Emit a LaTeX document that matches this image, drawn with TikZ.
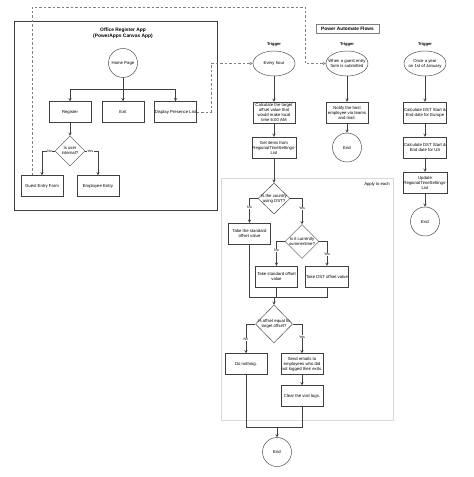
\documentclass[tikz,border=0pt]{standalone}
\usepackage{fontspec}
\setmainfont{Liberation Sans}
\usepackage{tikz}
\usetikzlibrary{shapes.geometric, arrows, positioning}
\tikzstyle{arrow} = [->,>=stealth]
\tikzstyle{link} = [->,>=stealth, draw=gray, dash pattern=on 2.5bp off 2bp]
\tikzstyle{proc} = [rectangle, draw, minimum width=42bp, minimum height=21bp, inner sep=0.5bp, align=center]
\tikzstyle{startstop} = [ellipse, draw, minimum width=42bp, minimum height=25bp, inner sep=0pt, align=center]
\tikzstyle{decision} = [diamond, draw, inner sep=0pt, minimum width=32bp, minimum height=32bp]
\tikzstyle{endnode} = [circle, draw, minimum size=29bp, inner sep=0pt, align=center]
\tikzstyle{tag} = [fill=white, inner sep=0.3bp, font=\fontsize{3.6}{4}\selectfont]
\tikzstyle{heading} = [align=center, font=\fontsize{4.9}{6}\selectfont\bfseries]
\tikzstyle{trig} = [font=\fontsize{4.1}{5}\selectfont\bfseries]

\begin{document}
\begin{tikzpicture}[x=1bp, y=-1bp, node distance=35bp, line width=0.45bp, draw=black!75,
    font=\fontsize{4.3}{5}\selectfont, every label/.style={align=center}]
        \useasboundingbox (0,0) rectangle (474,477);

        \node[draw, minimum width=203bp, minimum height=189bp] (App) at (115.5,115.5) {};
        \node[heading] (AppT) at (123,33.5) {Office Register App\\(PowerApps Canvas App)};
        \node[endnode] (Home) at (123,63) {Home Page};
        \node[proc, below of=Home, yshift=-14bp] (Exit) {Exit};
        \node[proc, left of=Exit, xshift=-18bp] (Reg) {Register};
        \node[proc, right of=Exit, xshift=17.5bp] (Disp) {Display Presence List};
        \node[decision, minimum width=30bp, minimum height=30bp, below of=Reg, yshift=-4bp,
            label={center:{Is user\\internal?}}] (Int) {};
        \node[proc, below of=Int, xshift=-28bp] (Guest) {Guest Entry Form};
        \node[proc, below of=Int, xshift=28bp] (Emp) {Employee Entry};
        \coordinate (B0) at (123,89);

        \node[draw=gray, line width=0.9bp, minimum width=63bp, minimum height=9bp, inner sep=1bp,
            font=\fontsize{4.8}{5}\selectfont\bfseries] (PA) at (347.5,29) {Power Automate Flows};

        \node[draw=gray!30, minimum width=172bp, minimum height=242bp] (Loop) at (307,299) {};
        \node[font=\fontsize{4.2}{5}\selectfont] (LoopT) at (377,184) {Apply to each};

        \node[startstop] (Hour) at (274,63.5) {Every hour};
        \node[trig, above of=Hour, node distance=19.5bp] (Trig1) {Trigger};
        \node[proc, below of=Hour, yshift=-14bp] (Target) {Calculate the target\\offset value that\\would make local\\time 6:00 AM};
        \node[proc, below of=Target] (Items) {Get items from\\RegionalTimeSettings-\\List};
        \node[decision, minimum height=31bp, below of=Items, yshift=-16bp,
            label={center:{Is the country\\using DST?}}] (DST) {};
        \node[proc, below of=DST, xshift=-24.5bp] (Std) {Take the standard\\offset value};
        \node[decision, minimum width=34bp, minimum height=34bp, below of=DST, xshift=28bp, yshift=-8bp,
            label={center:{Is it currently\\summertime?}}] (Summer) {};
        \node[proc, below of=Summer, xshift=-25.5bp] (Std2) {Take standard offset\\value};
        \node[proc, below of=Summer, xshift=25bp] (DSTv) {Take DST offset value};
        \coordinate (M1) at (274,297);
        \node[decision, minimum width=37bp, minimum height=38bp,
            label={center:{Is offset equal to\\target offset?}}] (Equal) at (274,324) {};
        \node[proc, below of=Equal, xshift=-28bp, yshift=-5bp] (None) {Do nothing.};
        \node[proc, below of=Equal, xshift=28bp, yshift=-5bp] (Mail) {Send emails to\\employees who did\\not logged their exits.};
        \node[proc, below of=Mail, yshift=3bp] (Clear) {Clear the visit logs.};
        \coordinate (M2) at (277,427);
        \node[endnode] (End1) at (277,452) {End};

        \node[startstop, label={center:{When a guest entry\\form is submitted}}] (Form) at (347,63.5) {};
        \node[trig, above of=Form, node distance=19.5bp] (Trig2) {Trigger};
        \node[proc, below of=Form, yshift=-14bp] (Notify) {Notify the host\\employee via teams\\and mail.};
        \node[endnode, below of=Notify] (End2) {End};

        \node[startstop, label={center:{Once a year\\on 1st of January}}] (Year) at (425,63.5) {};
        \node[trig, above of=Year, node distance=19.5bp] (Trig3) {Trigger};
        \node[proc, below of=Year, yshift=-14bp] (Europe) {Calculate DST Start \&\\End date for Europe};
        \node[proc, below of=Europe] (US) {Calculate DST Start \&\\End date for US};
        \node[proc, below of=US] (Update) {Update\\RegionalTimeSettings-\\List};
        \node[endnode, below of=Update, yshift=-4bp] (End3) {End};

        \draw[arrow] (Home) edge (Exit)
            (Reg) edge (Int)
            (Hour) edge (Target)
            (Target) edge (Items)
            (Items) edge (DST)
            (Mail) edge (Clear)
            (Form) edge (Notify)
            (Notify) edge (End2)
            (Year) edge (Europe)
            (Europe) edge (US)
            (US) edge (Update)
            (Update) edge (End3);
        \draw[arrow] (B0) -| (Reg);
        \draw[arrow] (B0) -| (Disp);
        \draw[arrow] (Int) -| node[tag, pos=0.2] {No} (Guest);
        \draw[arrow] (Int) -| node[tag, pos=0.2] {Yes} (Emp);
        \draw[arrow] (DST) -| node[tag, pos=0.68] {No} (Std);
        \draw[arrow] (DST) -| node[tag, pos=0.69] {Yes} (Summer);
        \draw[arrow] (Summer) -| node[tag, pos=0.69] {No} (Std2);
        \draw[arrow] (Summer) -| node[tag, pos=0.76] {Yes} (DSTv);
        \draw (Std) |- (M1);
        \draw (DSTv) |- (M1);
        \draw (Std2) -- (Std2 |- M1);
        \draw[arrow] (M1) -- (Equal);
        \draw[arrow] (Equal) -| node[tag, pos=0.76] {No} (None);
        \draw[arrow] (Equal) -| node[tag, pos=0.72] {Yes} (Mail);
        \draw (None) |- (M2);
        \draw (Clear) |- (M2);
        \draw[arrow] (M2) -- (End1);

        \coordinate (G0) at (32,175.5);
        \coordinate (K1) at (305,7);
        \coordinate (K2) at (211,63.5);
        \draw[link] (G0) |- (K1) |- (Form);
        \draw[link] (Disp) -| (K2) -- (Hour);
    \end{tikzpicture}
\end{document}
